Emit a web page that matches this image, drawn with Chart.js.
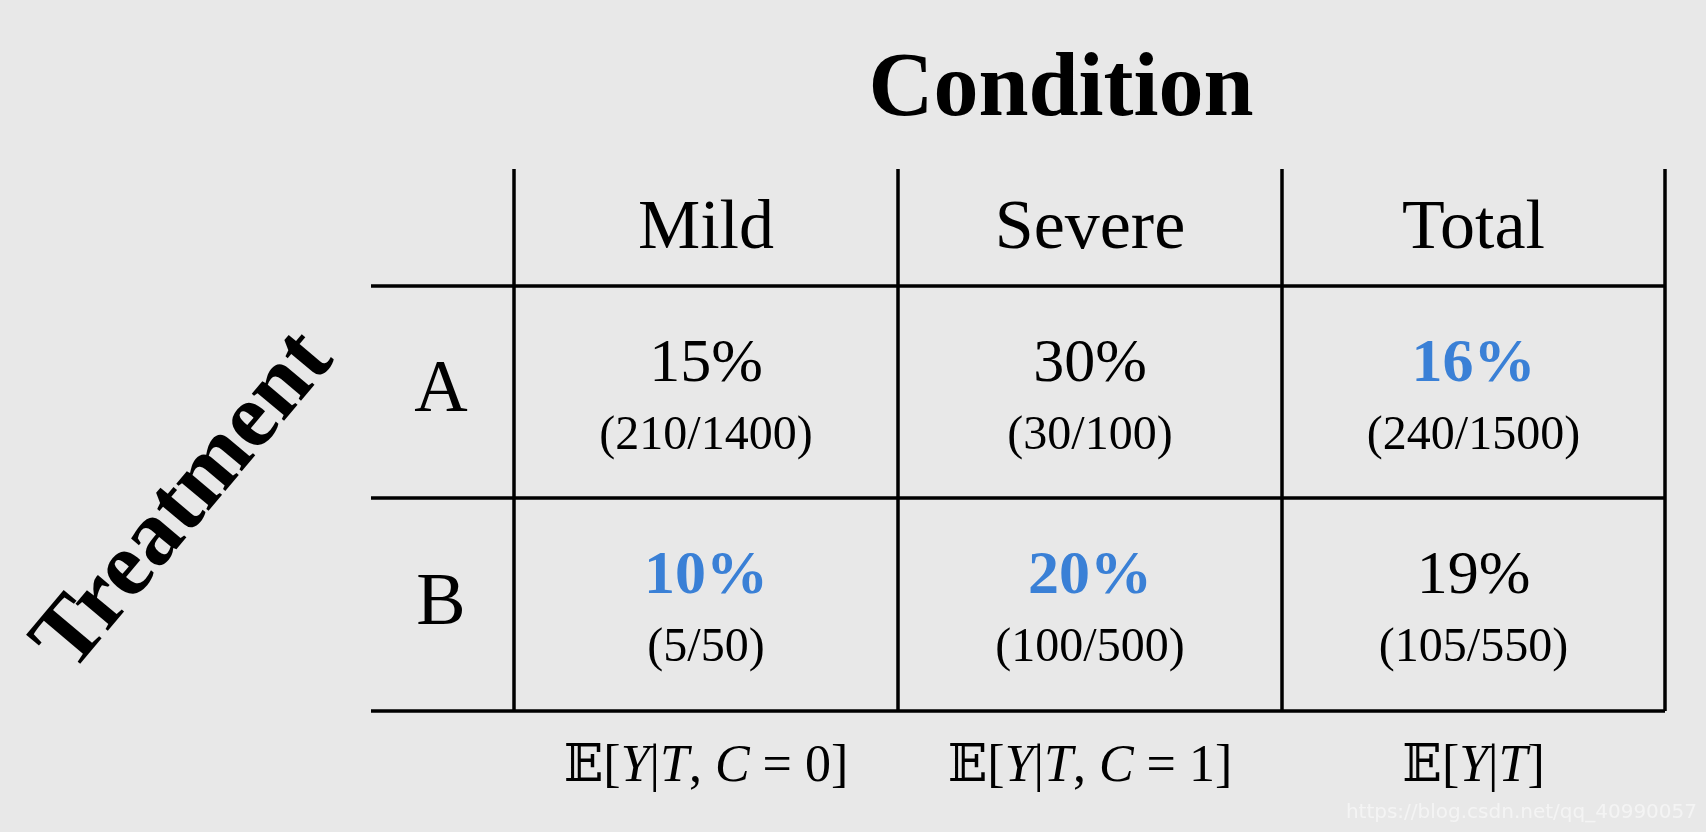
<!DOCTYPE html>
<html><head><meta charset="utf-8">
<script src="https://cdn.jsdelivr.net/npm/chart.js@4"></script>
<style>html,body{margin:0;background:#e8e8e8;overflow:hidden}#wrap{width:1706px;height:832px}</style>
</head><body><div id="wrap"><canvas id="myChart"></canvas></div>
<script>
// table contents
const columns = ['Mild', 'Severe', 'Total'];
const rows = ['A', 'B'];
const percents = [[15, 30, 16], [10, 20, 19]];
const counts = [['210/1400', '30/100', '240/1500'], ['5/50', '100/500', '105/550']];
const highlight = [[false, false, true], [true, true, false]];
// footer pieces: [text, italic]
const footers = [
  [['𝔼[', 0], ['Y', 1], ['|', 0], ['T', 1], [', ', 0], ['C', 1], [' = 0]', 0]],
  [['𝔼[', 0], ['Y', 1], ['|', 0], ['T', 1], [', ', 0], ['C', 1], [' = 1]', 0]],
  [['𝔼[', 0], ['Y', 1], ['|', 0], ['T', 1], [']', 0]]
];

// grid in chart units (x: 0..1706, y: 0..832)
const colEdges = [514, 898, 1282, 1665];
const rowEdges = [169, 286, 498, 711];
const lineLeft = 371;

const serif = '"Liberation Serif", "DejaVu Serif", serif';
const blue = '#3a80d6';

const tablePlugin = {
  id: 'table',
  afterDraw(chart){
    const c = chart.ctx, x = chart.scales.x, y = chart.scales.y;
    const px = v => x.getPixelForValue(v), py = v => y.getPixelForValue(v);
    c.save();
    c.strokeStyle = '#000'; c.lineWidth = 3.5;
    colEdges.forEach(e => { c.beginPath(); c.moveTo(px(e), py(rowEdges[0])); c.lineTo(px(e), py(rowEdges[3])); c.stroke(); });
    rowEdges.slice(1).forEach(e => { c.beginPath(); c.moveTo(px(lineLeft), py(e)); c.lineTo(px(colEdges[3]), py(e)); c.stroke(); });

    c.textAlign = 'center'; c.textBaseline = 'middle'; c.fillStyle = '#000';
    c.font = 'bold 90px ' + serif;
    c.fillText('Condition', px(1061), py(92));
    c.save();
    c.translate(px(185), py(502)); c.rotate(-50 * Math.PI / 180);
    c.font = 'bold 92px ' + serif;
    c.fillText('Treatment', 0, 0);
    c.restore();

    c.font = '70px ' + serif;
    columns.forEach((t, i) => c.fillText(t, px((colEdges[i] + colEdges[i + 1]) / 2), py(230)));
    c.font = '74px ' + serif;
    rows.forEach((t, j) => c.fillText(t, px(441), py((rowEdges[j + 1] + rowEdges[j + 2]) / 2)));

    rows.forEach((r, j) => {
      const top = rowEdges[j + 1];
      columns.forEach((col, i) => {
        const cx = px((colEdges[i] + colEdges[i + 1]) / 2);
        c.fillStyle = highlight[j][i] ? blue : '#000';
        c.font = (highlight[j][i] ? 'bold ' : '') + '62px ' + serif;
        c.fillText(percents[j][i] + '%', cx, py(top + 79));
        c.fillStyle = '#000';
        c.font = '48px ' + serif;
        c.fillText('(' + counts[j][i] + ')', cx, py(top + 150));
      });
    });

    // footers, mixed upright / italic
    c.textAlign = 'left';
    footers.forEach((parts, i) => {
      const fontOf = p => (p[1] ? 'italic ' : '') + '52px ' + serif;
      let w = 0;
      parts.forEach(p => { c.font = fontOf(p); w += c.measureText(p[0]).width; });
      let cx = px((colEdges[i] + colEdges[i + 1]) / 2) - w / 2;
      parts.forEach(p => { c.font = fontOf(p); c.fillText(p[0], cx, py(767)); cx += c.measureText(p[0]).width; });
    });

    c.font = '20px "DejaVu Sans", sans-serif'; c.fillStyle = '#f4f4f4'; c.textAlign = 'right';
    c.fillText('https://blog.csdn.net/qq_40990057', px(1697), py(813));
    c.restore();
  }
};

new Chart(document.getElementById('myChart'), {
  type: 'scatter',
  data: { datasets: [{ data: [], pointRadius: 0 }] },
  options: {
    responsive: true, maintainAspectRatio: false, animation: false,
    layout: { padding: 0 },
    plugins: { legend: { display: false }, tooltip: { enabled: false } },
    scales: {
      x: { type: 'linear', min: 0, max: 1706, display: false },
      y: { type: 'linear', min: 0, max: 832, reverse: true, display: false }
    }
  },
  plugins: [tablePlugin]
});
</script></body></html>
